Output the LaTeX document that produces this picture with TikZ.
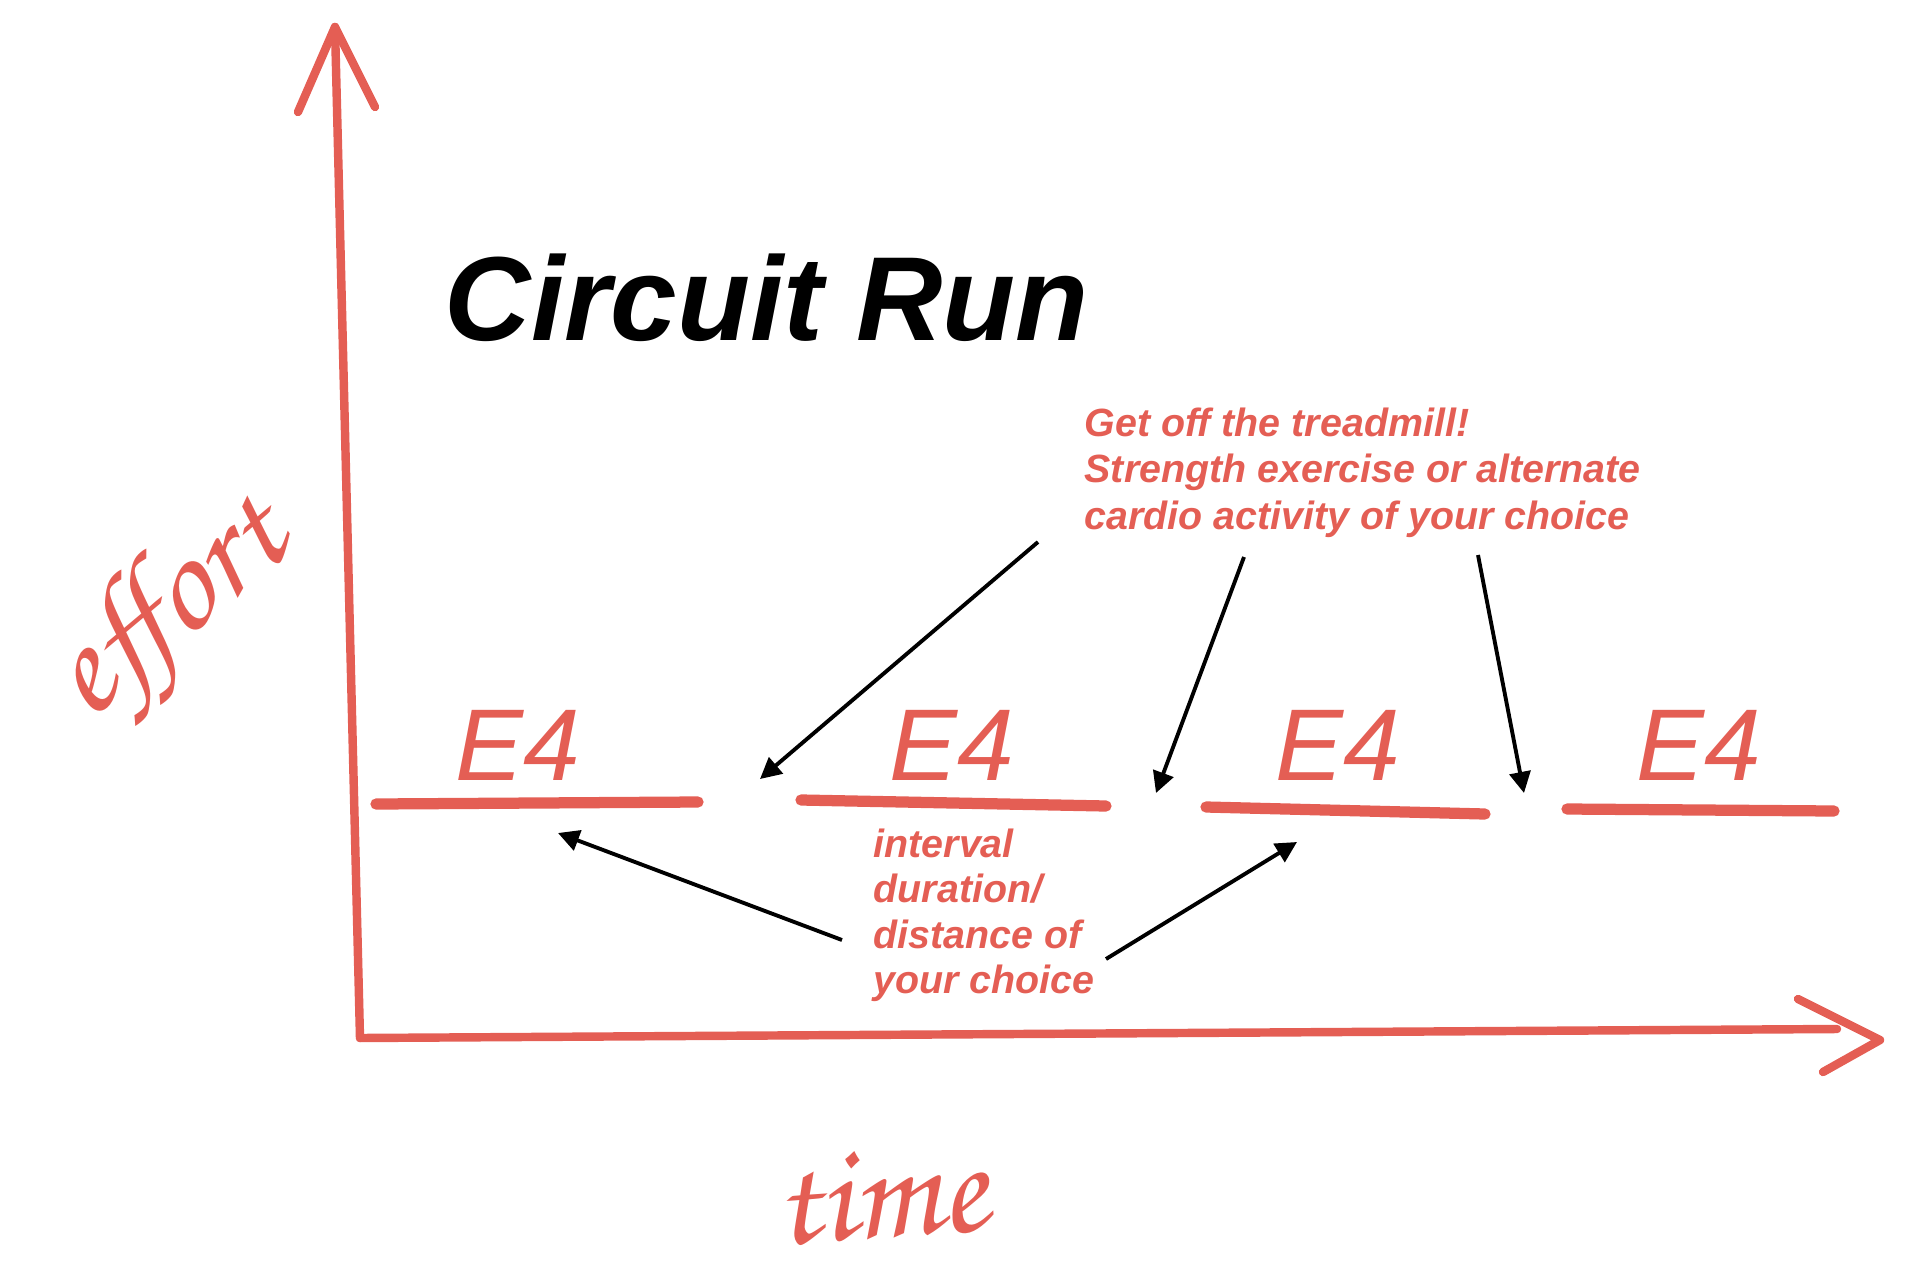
\documentclass[tikz,border=0pt]{standalone}
\usepackage{fontspec}
\setmainfont{Liberation Sans}
\newfontfamily\handfont{TeX Gyre Chorus}
\usepackage{tikz}
\usepackage{xcolor}
\usetikzlibrary{arrows.meta,positioning,calc}

\definecolor{sketchred}{RGB}{228,94,84}

\begin{document}
\begin{tikzpicture}[
    x=0.01cm, y=-0.01cm,
    axis/.style={draw=sketchred, line width=2.4pt, line cap=round, line join=round},
    interval/.style={draw=sketchred, line width=3.2pt, line cap=round},
    effortlabel/.style={text=sketchred, font=\itshape\fontsize{29}{31}\selectfont,
                        anchor=base west, inner sep=0pt},
    note/.style={text=sketchred, align=left, anchor=base west, inner sep=0pt},
    hand/.style={text=sketchred, font=\handfont\fontsize{40}{44}\selectfont, inner sep=0pt},
    pointer/.style={-{Triangle[length=6pt,width=6pt]}, line width=1.1pt, black}
  ]
    \useasboundingbox (0,0) rectangle (1920,1272);

    \coordinate (origin) at (360,1038);
    \coordinate (ytop) at (335,27);
    \coordinate (xend) at (1837,1029);
    \draw[axis] (origin) -- (ytop);
    \draw[axis] (origin) -- (xend);
    \draw[axis] (298,112) -- (ytop) -- (375,107);
    \draw[axis] (1798,999) -- (1880,1040) -- (1823,1072);

    \node[anchor=base west, inner sep=0pt, font=\bfseries\itshape\fontsize{34}{40}\selectfont]
      (title) at (444,340) {Circuit Run};

    \node[effortlabel] (e1) at (455,780) {E4};
    \node[effortlabel] (e2) at (889,780) {E4};
    \node[effortlabel] (e3) at (1275,780) {E4};
    \node[effortlabel] (e4) at (1636,780) {E4};

    \draw[interval] (376,804) -- (698,802);
    \draw[interval] (801,800) -- (1106,806);
    \draw[interval] (1206,807) -- (1485,814);
    \draw[interval] (1567,809) -- (1834,811);

    \node[note, font=\bfseries\itshape\fontsize{11.2}{13.2}\selectfont] (offnote) at (1084,529)
      {Get off the treadmill!\\Strength exercise or alternate\\cardio activity of your choice};
    \node[note, font=\bfseries\itshape\fontsize{11.2}{12.8}\selectfont] (lengthnote) at (873,993)
      {interval\\duration/\\distance of\\your choice};

    \coordinate (gap1) at (760,779);
    \coordinate (gap2) at (1156,793);
    \coordinate (gap3) at (1524,793);
    \coordinate (run1) at (558,833);
    \coordinate (run3) at (1297,842);
    \coordinate (from1) at (1038,542);
    \coordinate (from2) at (1244,557);
    \coordinate (from3) at (1478,555);
    \coordinate (from4) at (842,940);
    \coordinate (from5) at (1106,959);

    \draw[pointer] (from1) -- (gap1);
    \draw[pointer] (from2) -- (gap2);
    \draw[pointer] (from3) -- (gap3);
    \draw[pointer] (from4) -- (run1);
    \draw[pointer] (from5) -- (run3);

    \node[hand, rotate=40] (effort) at (172,612) {effort};
    \node[hand, rotate=4] (time) at (880,1195) {time};
  \end{tikzpicture}
\end{document}
